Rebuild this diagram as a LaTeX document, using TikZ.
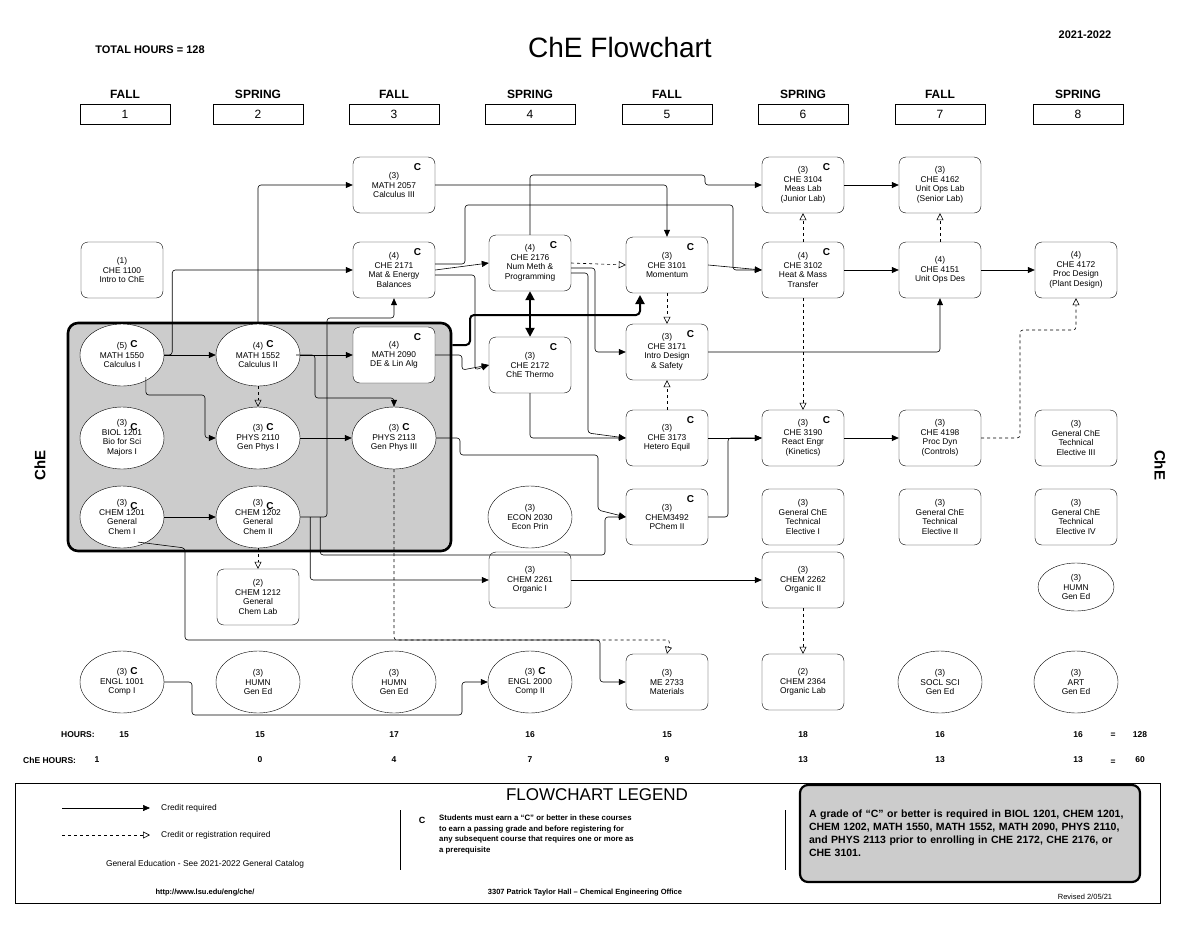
\documentclass[tikz,border=0pt]{standalone}
\usepackage{fontspec}
\setmainfont{Liberation Sans}
\usetikzlibrary{shapes.geometric,arrows.meta}
\begin{document}
\begin{tikzpicture}[x=1pt,y=-1pt,
  every node/.style={font=\fontsize{8.4}{9.6}\selectfont,align=center,inner sep=1pt},
  rbox/.style={draw,rectangle,rounded corners=7,minimum width=82,minimum height=56,fill=white},
  ebox/.style={draw,ellipse,minimum width=84,minimum height=62,fill=white,inner sep=0pt},
  cmark/.style={label={[font=\fontsize{10}{10}\selectfont\bfseries,anchor=north east,inner sep=0pt,xshift=-14pt,yshift=-7pt]north east:C}},
  req/.style={-{Triangle[length=7pt,width=6pt]},line width=0.6pt},
  reg/.style={dashed,-{Triangle[open,length=7pt,width=7pt]},line width=0.6pt},
  big/.style={-{Triangle[length=9pt,width=9pt]},line width=2pt},
  sem/.style={draw,minimum width=90,minimum height=20,font=\fontsize{12}{12}\selectfont},
  semt/.style={font=\fontsize{12}{12}\selectfont\bfseries},
  hr/.style={font=\fontsize{8.5}{9}\selectfont\bfseries}]
\useasboundingbox (0,0) rectangle (1200,927);
% headings
\node[font=\fontsize{28}{30}\selectfont] (title) at (620,47) {ChE Flowchart};
\node[font=\fontsize{11}{12}\selectfont\bfseries] (tot) at (150,50) {TOTAL HOURS = 128};
\node[font=\fontsize{11}{12}\selectfont\bfseries] (yr) at (1085,35) {2021-2022};
\foreach \i/\x/\t in {1/125/FALL,2/258/SPRING,3/394/FALL,4/530/SPRING,5/667/FALL,6/803/SPRING,7/940/FALL,8/1078/SPRING}{
  \node[semt] (st\i) at (\x,94) {\t};
  \node[sem] (sb\i) at (\x,114) {\i};}
\node[rotate=90,font=\fontsize{15}{15}\selectfont\bfseries] (lch) at (40,465) {ChE};
\node[rotate=-90,font=\fontsize{15}{15}\selectfont\bfseries] (rch) at (1160,465) {ChE};
% core region
\node[draw,line width=2.6pt,rounded corners=10,fill=black!20,minimum width=383,minimum height=228] (core) at (259.5,437) {};
% nodes
\node[rbox,cmark] (m2057) at (394,185) {(3)\\MATH 2057\\Calculus III};
\node[rbox,cmark] (c3104) at (803,185) {(3)\\CHE 3104\\Meas Lab\\(Junior Lab)};
\node[rbox] (c4162) at (940,185) {(3)\\CHE 4162\\Unit Ops Lab\\(Senior Lab)};
\node[rbox] (c1100) at (122,270) {(1)\\CHE 1100\\Intro to ChE};
\node[rbox,cmark] (c2171) at (394,270) {(4)\\CHE 2171\\Mat \& Energy\\Balances};
\node[rbox,cmark] (c2176) at (530,263) {(4)\\CHE 2176\\Num Meth \&\\Programming};
\node[rbox,cmark] (c3101) at (667,265) {(3)\\CHE 3101\\Momentum};
\node[rbox,cmark] (c3102) at (803,270) {(4)\\CHE 3102\\Heat \& Mass\\Transfer};
\node[rbox] (c4151) at (940,270) {(4)\\CHE 4151\\Unit Ops Des};
\node[rbox] (c4172) at (1076,270) {(4)\\CHE 4172\\Proc Design\\(Plant Design)};
\node[ebox,cmark] (m1550) at (122,355) {(5)\\MATH 1550\\Calculus I};
\node[ebox,cmark] (m1552) at (258,355) {(4)\\MATH 1552\\Calculus II};
\node[rbox,cmark] (m2090) at (394,355) {(4)\\MATH 2090\\DE \& Lin Alg};
\node[rbox,cmark] (c2172) at (530,365) {(3)\\CHE 2172\\ChE Thermo};
\node[rbox,cmark] (c3171) at (667,352) {(3)\\CHE 3171\\Intro Design\\\& Safety};
\node[ebox,cmark] (b1201) at (122,438) {(3)\\BIOL 1201\\Bio for Sci\\Majors I};
\node[ebox,cmark] (p2110) at (258,438) {(3)\\PHYS 2110\\Gen Phys I};
\node[ebox,cmark] (p2113) at (394,438) {(3)\\PHYS 2113\\Gen Phys III};
\node[rbox,cmark] (c3173) at (667,438) {(3)\\CHE 3173\\Hetero Equil};
\node[rbox,cmark] (c3190) at (803,438) {(3)\\CHE 3190\\React Engr\\(Kinetics)};
\node[rbox] (c4198) at (940,438) {(3)\\CHE 4198\\Proc Dyn\\(Controls)};
\node[rbox] (te3) at (1076,438) {(3)\\General ChE\\Technical\\Elective III};
\node[ebox,cmark] (ch1201) at (122,517) {(3)\\CHEM 1201\\General\\Chem I};
\node[ebox,cmark] (ch1202) at (258,517) {(3)\\CHEM 1202\\General\\Chem II};
\node[ebox] (e2030) at (530,517) {(3)\\ECON 2030\\Econ Prin};
\node[rbox,cmark] (ch3492) at (667,517) {(3)\\CHEM3492\\PChem II};
\node[rbox] (te1) at (803,517) {(3)\\General ChE\\Technical\\Elective I};
\node[rbox] (te2) at (940,517) {(3)\\General ChE\\Technical\\Elective II};
\node[rbox] (te4) at (1076,517) {(3)\\General ChE\\Technical\\Elective IV};
\node[rbox] (ch1212) at (258,597) {(2)\\CHEM 1212\\General\\Chem Lab};
\node[rbox] (ch2261) at (530,580) {(3)\\CHEM 2261\\Organic I};
\node[rbox] (ch2262) at (803,580) {(3)\\CHEM 2262\\Organic II};
\node[ebox,minimum height=48,minimum width=76] (hu8) at (1076,587) {(3)\\HUMN\\Gen Ed};
\node[ebox,cmark] (en1001) at (122,682) {(3)\\ENGL 1001\\Comp I};
\node[ebox] (hu2) at (258,682) {(3)\\HUMN\\Gen Ed};
\node[ebox] (hu3) at (394,682) {(3)\\HUMN\\Gen Ed};
\node[ebox,cmark] (en2000) at (530,682) {(3)\\ENGL 2000\\Comp II};
\node[rbox] (me2733) at (667,682) {(3)\\ME 2733\\Materials};
\node[rbox] (ch2364) at (803,682) {(2)\\CHEM 2364\\Organic Lab};
\node[ebox] (socl) at (940,682) {(3)\\SOCL SCI\\Gen Ed};
\node[ebox] (art) at (1076,682) {(3)\\ART\\Gen Ed};
% connectors
\draw[req] (m1550.east) -- (m1552.west);
\draw[req,rounded corners=3] (m1550.east) -- ++(8,0) |- (c2171.west);
\draw[req,rounded corners=3] (m1550.south east) ++(-6,0) |- (185,395) -| (205,438) -- (p2110.west);
\draw[req,rounded corners=3] (m1552.north) |- (m2057.west);
\draw[reg] (m1552.south) -- (p2110.north);
\draw[req] (m1552.east) -- (m2090.west);
\draw[req,rounded corners=3] (m1552.east) ++(-4,0) -| (315,398) -| (p2113.north);
\draw[req] (p2110.east) -- (p2113.west);
\draw[req] (ch1201.east) -- (ch1202.west);
\draw[req,rounded corners=3] (ch1201.south east) ++(-14,3) -- (185,548) |- (600,640) |- (me2733.west);
\draw[reg] (ch1202.south) -- (ch1212.north);
\draw[req,rounded corners=3] (ch1202.east) -| (327,318) -| (c2171.south);
\draw[req,rounded corners=3] (ch1202.east) ++(10,0) |- (ch2261.west);
\draw[req,rounded corners=3] (ch1202.east) ++(20,0) |- (605,555) |- (ch3492.west);
\draw[reg,rounded corners=3] (p2113.south) |- (670,640) -- (me2733.north);
\draw[req,rounded corners=3] (p2113.east) -| (460,455) -| (598,510) -- (ch3492.west);
\draw[req,rounded corners=3] (m2090.east) -| (462,370) -- (c2172.west);
\draw[req,rounded corners=3] (c2171.east) ++(0,5) -| (475,370) -- (c2172.west);
\draw[req] (c2171.east) -- (c2176.west);
\draw[req,rounded corners=3] (c2171.east) ++(0,-6) -| (465,205) -| (733,270) -- (c3102.west);
\draw[big,rounded corners=4] (core.east |- 0,345) -| (470,315) -| (640,295);
\draw[big] (530,315) -- (c2176.south);
\draw[big] (530,315) -- (c2172.north);
\draw[req,rounded corners=3] (m2057.east) -| (c3101.north);
\draw[req,rounded corners=3] (c2176.north) |- (705,175) |- (c3104.west);
\draw[reg] (c2176.east) -- (c3101.west);
\draw[req,rounded corners=3] (c2176.east) ++(0,5) -| (595,352) -- (c3171.west);
\draw[req,rounded corners=3] (c2176.east) ++(0,10) -| (588,433) -- (c3173.west);
\draw[req,rounded corners=3] (c2172.south) |- (c3173.west);
\draw[reg] (c3101.south) -- (c3171.north);
\draw[req] (c3101.east) -- (c3102.west);
\draw[reg] (c3173.north) -- (c3171.south);
\draw[req,rounded corners=3] (c3171.east) -| (c4151.south);
\draw[req] (c3173.east) -- (c3190.west);
\draw[req,rounded corners=3] (ch3492.east) -| (728,438) -- (c3190.west);
\draw[reg] (c3102.south) -- (c3190.north);
\draw[reg] (c3102.north) -- (c3104.south);
\draw[req] (c3102.east) -- (c4151.west);
\draw[req] (c3104.east) -- (c4162.west);
\draw[reg] (c4151.north) -- (c4162.south);
\draw[req] (c4151.east) -- (c4172.west);
\draw[req] (c3190.east) -- (c4198.west);
\draw[reg,rounded corners=3] (c4198.east) -| (1020,330) -| (c4172.south);
\draw[req] (ch2261.east) -- (ch2262.west);
\draw[reg] (ch2262.south) -- (ch2364.north);
\draw[req,rounded corners=3] (en1001.east) -| (192,715) -| (462,682) -- (en2000.west);
% hours
\node[hr,anchor=west] (hl) at (60,735) {HOURS:};
\node[hr,anchor=west] (chl) at (22,760) {ChE HOURS:};
\node[hr] (h1) at (124,735) {15};
\node[hr] (ch1) at (97,760) {1};
\foreach \x/\a/\b [count=\k from 2] in {260/15/0,394/17/4,530/16/7,667/15/9,803/18/13,940/16/13,1078/16/13}{
  \node[hr] (h\k) at (\x,735) {\a};
  \node[hr] (ch\k) at (\x,760) {\b};}
\node[hr] (eq1) at (1113,735) {=};
\node[hr] (eq2) at (1113,762) {=};
\node[hr] (t1) at (1140,735) {128};
\node[hr] (t2) at (1140,760) {60};
% legend
\node[draw,minimum width=1145,minimum height=120,line width=0.6pt] (leg) at (587.5,843) {};
\node[font=\fontsize{17}{18}\selectfont] (legt) at (597,795) {FLOWCHART LEGEND};
\draw (400,810) -- (400,870);
\draw (785,810) -- (785,870);
\coordinate (la1) at (62,808); \coordinate (la2) at (150,808);
\draw[req] (la1) -- (la2);
\node[anchor=west] (l1) at (160,808) {Credit required};
\coordinate (lb1) at (62,835); \coordinate (lb2) at (150,835);
\draw[reg] (lb1) -- (lb2);
\node[anchor=west] (l2) at (160,835) {Credit or registration required};
\node (l3) at (205,864) {General Education - See 2021-2022 General Catalog};
\node[font=\fontsize{7.5}{8}\selectfont\bfseries] (l4) at (205,893) {http://www.lsu.edu/eng/che/};
\node[font=\fontsize{9}{9}\selectfont\bfseries] (lc) at (422,820) {C};
\node[anchor=north west,align=left,font=\fontsize{7.8}{10.5}\selectfont\bfseries] (lct) at (438,814) {Students must earn a “C” or better in these courses\\to earn a passing grade and before registering for\\any subsequent course that requires one or more as\\a prerequisite};
\node[font=\fontsize{7.5}{8}\selectfont\bfseries] (l5) at (585,893) {3307 Patrick Taylor Hall -- Chemical Engineering Office};
\node[draw,line width=2.2pt,rounded corners=8,fill=black!20,minimum width=340,minimum height=97,text width=322,align=left,font=\fontsize{10.5}{13}\selectfont\bfseries] (gbox) at (970,833.5) {A grade of “C” or better is required in BIOL 1201, CHEM 1201, CHEM 1202, MATH 1550, MATH 1552, MATH 2090, PHYS 2110, and PHYS 2113 prior to enrolling in CHE 2172, CHE 2176, or CHE 3101.};
\node[font=\fontsize{7.5}{8}\selectfont] (rev) at (1085,897) {Revised 2/05/21};
\end{tikzpicture}
\end{document}
